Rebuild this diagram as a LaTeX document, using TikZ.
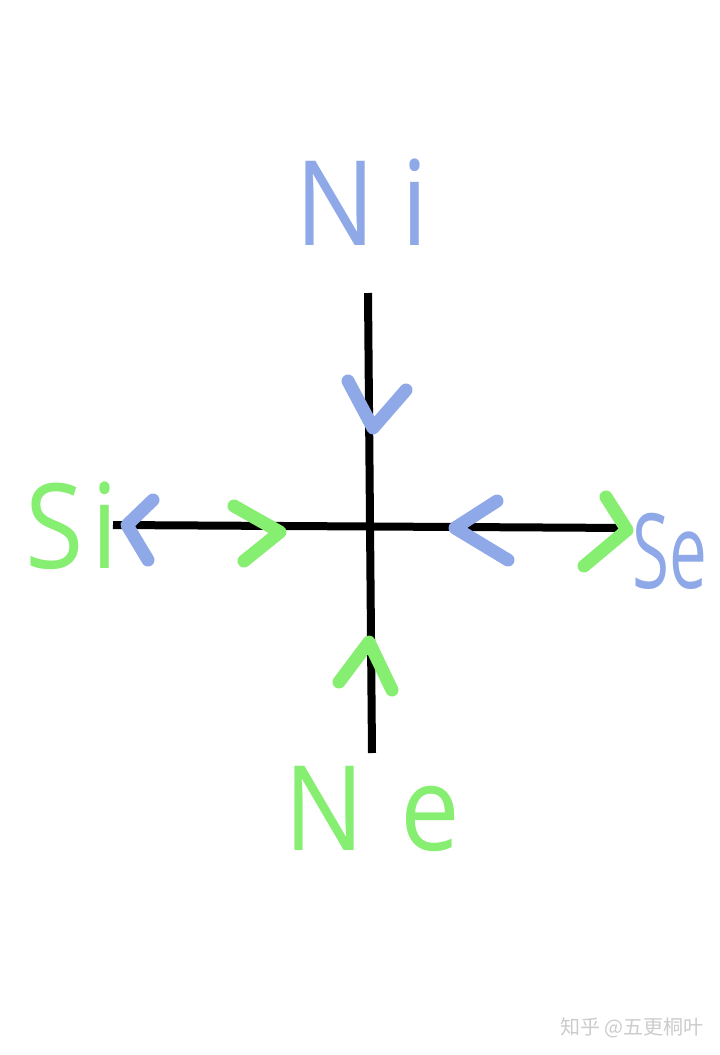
\documentclass[tikz,border=0pt]{standalone}
\usepackage{fontspec}
\setmainfont{Open Sans}
\newfontfamily\cjk{Noto Sans CJK SC}
\definecolor{hblue}{RGB}{143,168,232}
\definecolor{hgreen}{RGB}{134,238,112}
\begin{document}
\begin{tikzpicture}[x=1pt,y=-1pt,
  axisline/.style={line width=8pt,black},
  chev/.style={line width=13pt,line cap=round,line join=round},
  hand/.style={anchor=base,inner sep=0pt,font=\fontsize{118}{118}\selectfont,xscale=0.9}]
\useasboundingbox[fill=white] (0,0) rectangle (720,1055);
% axes
\coordinate (top) at (368,293);
\coordinate (bot) at (372,753);
\coordinate (lft) at (113,525);
\coordinate (rgt) at (630,528);
\draw[axisline] (top) -- (bot);
\draw[axisline] (lft) -- (rgt);
% chevrons
\draw[chev,hblue] (348,381) -- (373,428) -- (406,390);
\draw[chev,hgreen] (339,682) -- (369,642) -- (392,690);
\draw[chev,hblue] (153,500) -- (127,525) -- (148,560);
\draw[chev,hgreen] (234,506) -- (280,532) -- (244,561);
\draw[chev,hblue] (497,501) -- (455,528) -- (508,560);
\draw[chev,hgreen] (606,497) -- (627,530) -- (584,566);
% labels
\node[hand,text=hblue] (ni) at (362,245) {N\kern28pt i};
\node[hand,text=hgreen] (si) at (72,568) {S\kern8pt i};
\node[hand,text=hblue,anchor=base west,font=\fontsize{104}{104}\selectfont,xscale=0.72] (se) at (632,588) {Se};
\node[hand,text=hgreen] (ne) at (372,850) {N\kern40pt e};
% watermark
\node[text=gray!40,font=\cjk\fontsize{20}{20}\selectfont,anchor=base east,inner sep=0pt] (wm) at (704,1034) {知乎 @五更桐叶};
\end{tikzpicture}
\end{document}
